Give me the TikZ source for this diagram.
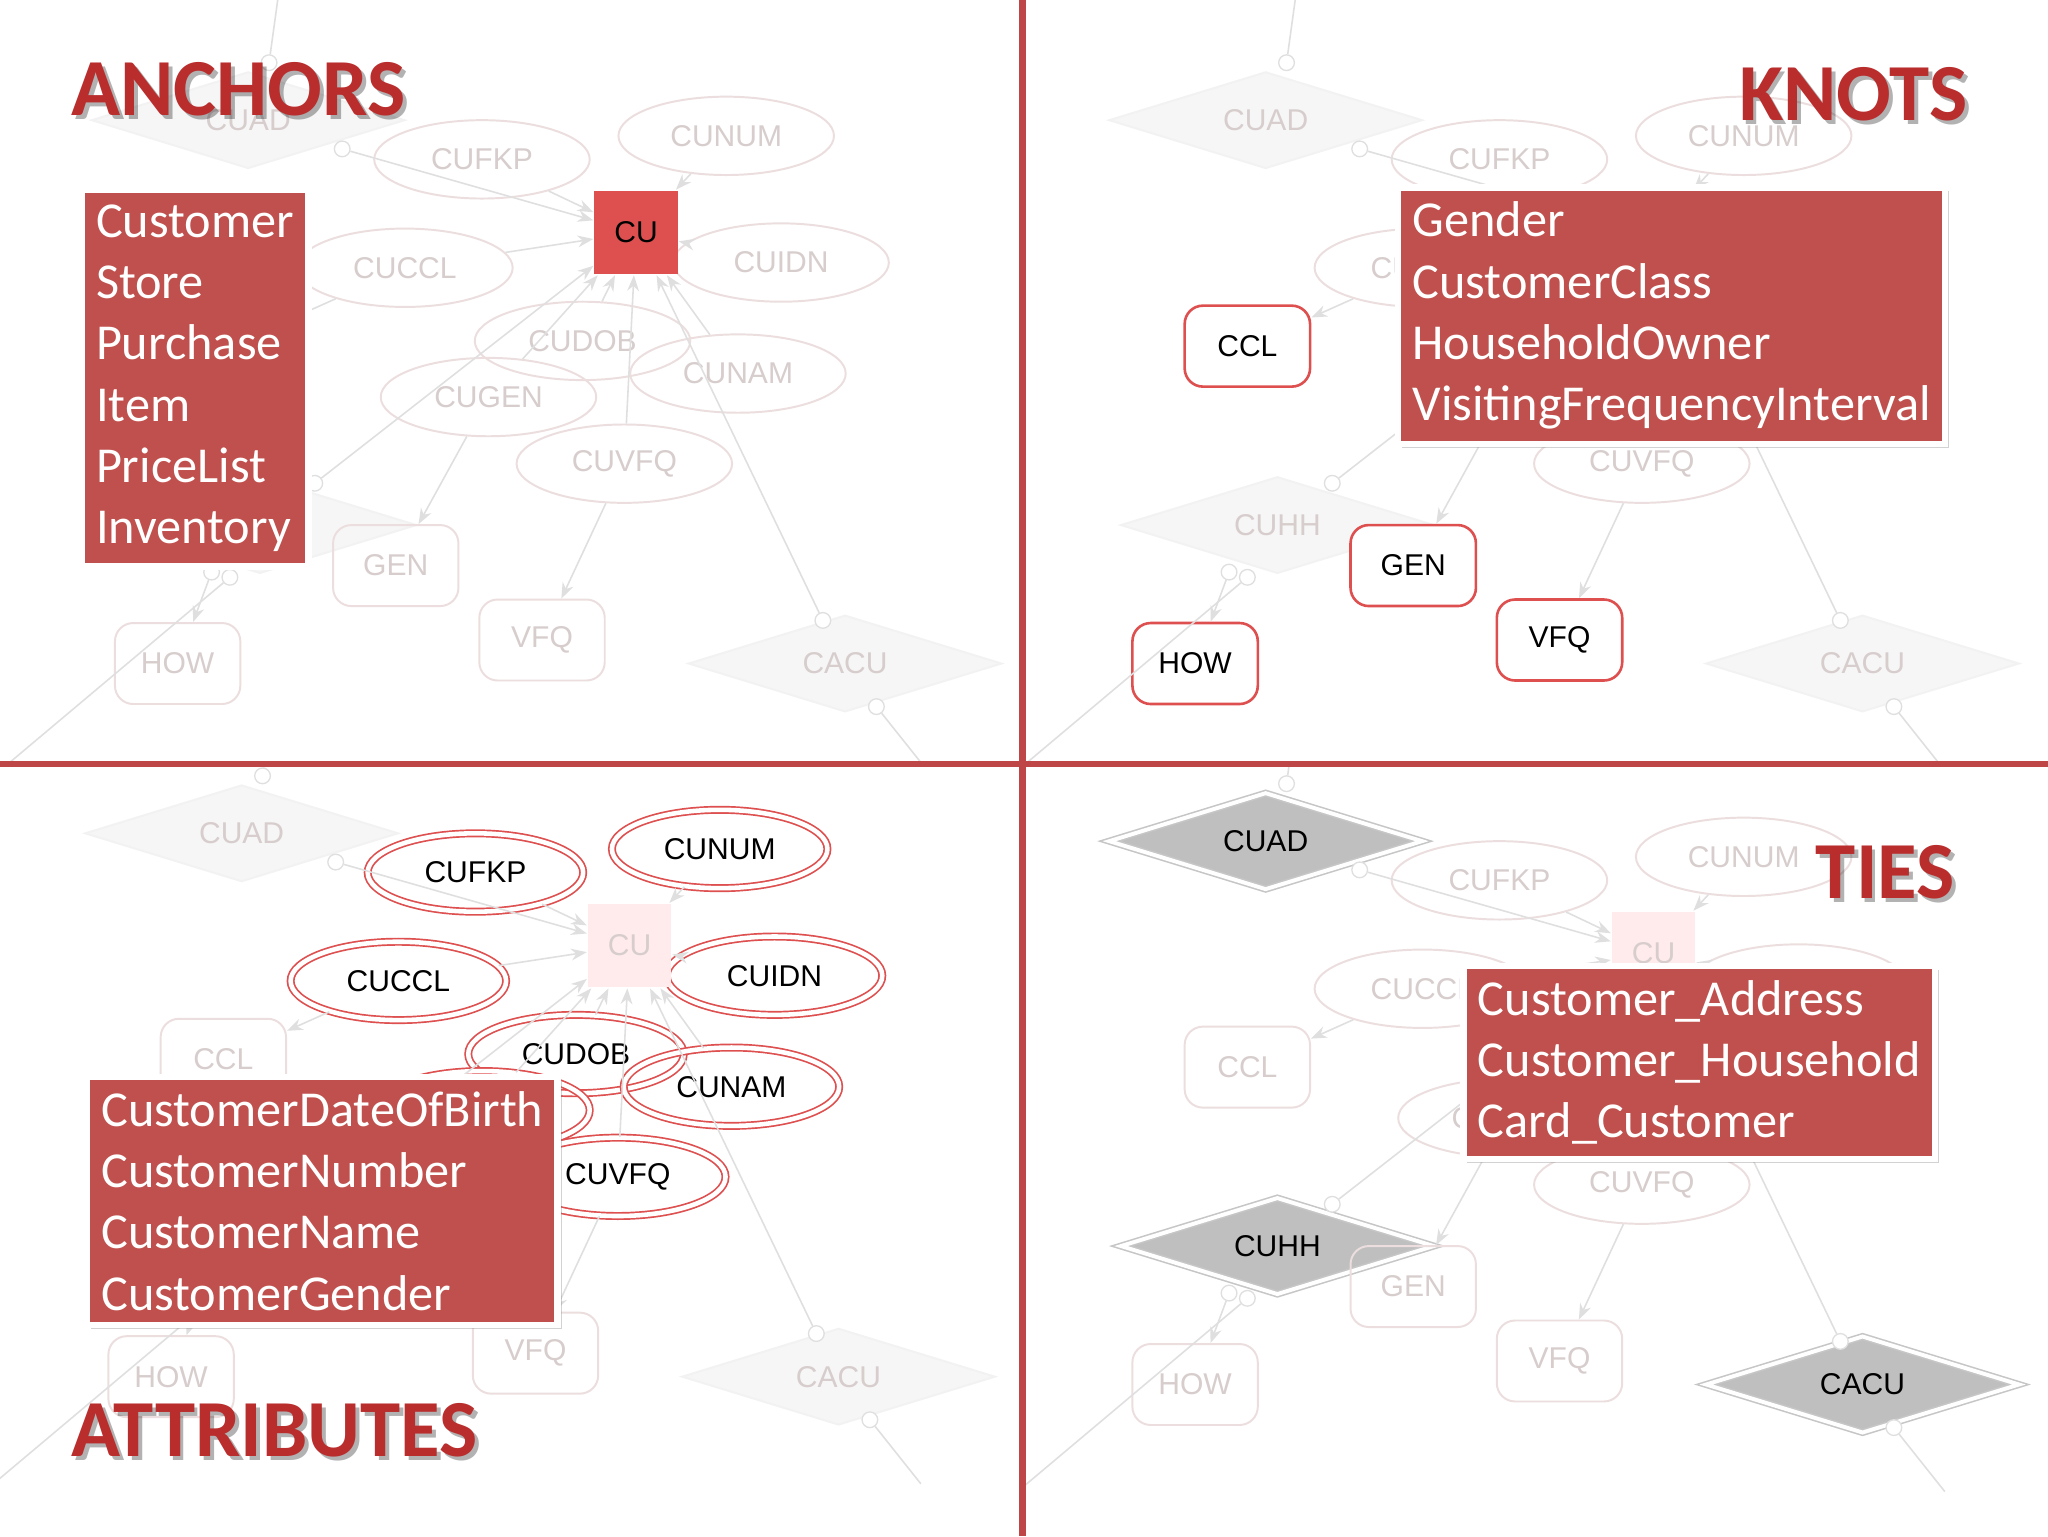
\documentclass[tikz,border=0pt]{standalone}
\usepackage{fontspec}
\setmainfont{Carlito}
\newfontfamily\nf{Liberation Sans}
\usetikzlibrary{shapes.geometric,arrows.meta,shadows}
\definecolor{fl}{RGB}{236,222,222}
\definecolor{ft}{RGB}{215,205,205}
\definecolor{boxred}{RGB}{192,80,77}
\definecolor{hired}{RGB}{222,80,80}
\definecolor{ttl}{RGB}{185,45,45}
\definecolor{divc}{RGB}{190,70,70}
\tikzset{
 base/.style={font=\nf\fontsize{23}{26}\selectfont, text=ft, draw=fl, line width=1.5pt},
 anc/.style={base, rectangle, minimum width=64pt, minimum height=64pt, fill=red!8, draw=none},
 att/.style={base, ellipse, minimum width=165pt, minimum height=60pt},
 knot/.style={base, rectangle, rounded corners=14pt, minimum width=96pt, minimum height=62pt},
 tie/.style={base, diamond, aspect=3.3, inner sep=2pt, minimum width=240pt, minimum height=74pt, fill=gray!7, draw=gray!10},
 circ/.style={circle, draw=gray!25, line width=1pt, fill=white, minimum size=12pt, inner sep=0pt},
 edg/.style={draw=gray!25, line width=1.2pt, -{Stealth[length=12pt,width=9pt]}},
 lin/.style={draw=gray!25, line width=1.2pt},
 tbox/.style={fill=boxred, text=white, draw=white, line width=5pt, align=left, font=\fontsize{38.5}{47}\selectfont, inner xsep=11pt, inner ysep=11pt, drop shadow={shadow xshift=3pt, shadow yshift=-3pt, opacity=0.35}},
 ttlst/.style={font=\bfseries\fontsize{62}{62}\selectfont, text=ttl},
 ttlsh/.style={font=\bfseries\fontsize{62}{62}\selectfont, text=black, opacity=0.3},
}
\newcommand\mygraph[1]{%
 \node[tie] (#1ad) at (190,92) {CUAD};
 \node[tie] (#1hh) at (199,402) {CUHH};
 \node[tie] (#1ca) at (647,508) {CACU};
 \node[att] (#1fkp) at (369,122) {CUFKP};
 \node[att] (#1num) at (556,104) {CUNUM};
 \node[att] (#1ccl) at (310,205) {CUCCL};
 \node[att] (#1idn) at (598,201) {CUIDN};
 \node[att] (#1dob) at (446,261) {CUDOB};
 \node[att] (#1nam) at (565,286) {CUNAM};
 \node[att] (#1gen) at (374,304) {CUGEN};
 \node[att] (#1vfq) at (478,355) {CUVFQ};
 \node[anc] (#1cu) at (487,178) {CU};
 \node[knot] (#1kccl) at (176,265) {CCL};
 \node[knot] (#1kgen) at (303,433) {GEN};
 \node[knot] (#1kvfq) at (415,490) {VFQ};
 \node[knot] (#1khow) at (136,508) {HOW};
 \node[circ] (#1adc1) at (262,114) {};
 \node[circ] (#1adc2) at (206,48) {};
 \coordinate (#1adt) at (214,-10);
 \node[circ] (#1hhc1) at (241,370) {};
 \node[circ] (#1hhc2) at (162,438) {};
 \node[circ] (#1hhc3) at (176,442) {};
 \coordinate (#1bl) at (0,590);
 \node[circ] (#1cac1) at (630,475) {};
 \node[circ] (#1cac2) at (671,541) {};
 \coordinate (#1cab) at (710,590);
 \draw[edg] (#1adc1) -- (#1cu);
 \draw[lin] (#1adc2) -- (#1adt);
 \draw[edg] (#1fkp) -- (#1cu);
 \draw[edg] (#1num) -- (#1cu);
 \draw[edg] (#1ccl) -- (#1cu);
 \draw[edg] (#1idn) -- (#1cu);
 \draw[edg] (#1dob) -- (#1cu);
 \draw[edg] (#1nam) -- (#1cu);
 \draw[edg] (#1gen) -- (#1cu);
 \draw[edg] (#1vfq) -- (#1cu);
 \draw[edg] (#1ccl) -- (#1kccl);
 \draw[edg] (#1gen) -- (#1kgen);
 \draw[edg] (#1vfq) -- (#1kvfq);
 \draw[edg] (#1hhc1) -- (#1cu);
 \draw[edg] (#1hhc2) -- (#1khow);
 \draw[lin] (#1bl) -- (#1hhc3);
 \draw[edg] (#1cac1) -- (#1cu);
 \draw[lin] (#1cac2) -- (#1cab);
}
\begin{document}
\begin{tikzpicture}[x=1pt,y=-1pt]
\useasboundingbox (0,0) rectangle (1568,1176);
\fill[white] (0,0) rectangle (1568,1176);
% Q1 anchors
\begin{scope}
 \clip (0,0) rectangle (783,585);
 \tikzset{anc/.style={base, rectangle, minimum width=64pt, minimum height=64pt, fill=hired, draw=none, text=black}}
 \mygraph{a}
\end{scope}
% Q2 knots
\begin{scope}
 \clip (783,0) rectangle (1568,585);
 \begin{scope}[shift={(779,0)}]
 \tikzset{knot/.style={base, rectangle, rounded corners=14pt, minimum width=96pt, minimum height=62pt, draw=hired, line width=2pt, text=black, fill=white}}
 \mygraph{k}
 \end{scope}
\end{scope}
% Q3 attributes
\begin{scope}
 \clip (0,585) rectangle (783,1176);
 \begin{scope}[shift={(-5,546)}]
 \tikzset{att/.style={base, ellipse, minimum width=165pt, minimum height=60pt, draw=hired, line width=1.3pt, double=white, double distance=3.5pt, text=black}}
 \mygraph{t}
 \end{scope}
\end{scope}
% Q4 ties
\begin{scope}
 \clip (783,585) rectangle (1568,1176);
 \begin{scope}[shift={(779,552)}]
 \tikzset{tie/.style={base, diamond, aspect=3.3, inner sep=2pt, minimum width=240pt, minimum height=74pt, fill=gray!50, draw=gray!45, line width=1.2pt, double=white, double distance=3pt, text=black}}
 \mygraph{e}
 \end{scope}
\end{scope}
% text boxes
\node[tbox, anchor=north west] (b1) at (60,143) {Customer\\Store\\Purchase\\Item\\PriceList\\Inventory};
\node[tbox, anchor=north west] (b2) at (1068,141) {Gender\\CustomerClass\\HouseholdOwner\\VisitingFrequencyInterval};
\node[tbox, anchor=north west] (b3) at (64,822) {CustomerDateOfBirth\\CustomerNumber\\CustomerName\\CustomerGender};
\node[tbox, anchor=north west] (b4) at (1118,737) {Customer\_Address\\Customer\_Household\\Card\_Customer};
% titles
\node[ttlsh, anchor=west] (s1) at (54,71) {ANCHORS};
\node[ttlst, anchor=west] (t1) at (51,68) {ANCHORS};
\node[ttlsh, anchor=east] (s2) at (1513,75) {KNOTS};
\node[ttlst, anchor=east] (t2) at (1510,72) {KNOTS};
\node[ttlsh, anchor=west] (s3) at (54,1098) {ATTRIBUTES};
\node[ttlst, anchor=west] (t3) at (51,1095) {ATTRIBUTES};
\node[ttlsh, anchor=east] (s4) at (1503,671) {TIES};
\node[ttlst, anchor=east] (t4) at (1500,668) {TIES};
% dividers
\draw[divc, line width=5pt] (783,0) -- (783,1176);
\draw[divc, line width=5pt] (0,585) -- (1568,585);
\end{tikzpicture}
\end{document}
